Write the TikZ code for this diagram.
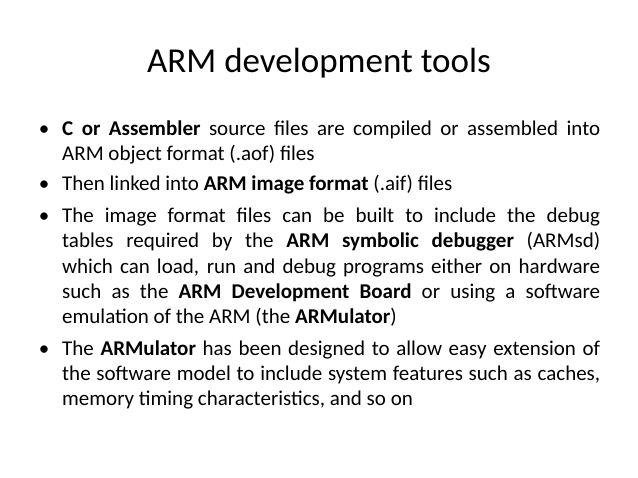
\documentclass[tikz,border=0pt]{standalone}
\usepackage{fontspec}
\setmainfont{Carlito}
\begin{document}
\begin{tikzpicture}[x=1pt,y=-1pt,
  ln/.style={anchor=base west,inner sep=0pt,font=\fontsize{21}{25}\selectfont},
  bul/.style={anchor=base,inner sep=0pt,font=\fontsize{21}{25}\selectfont}]
\useasboundingbox (0,0) rectangle (638,478);
\node[anchor=base,inner sep=0pt,font=\fontsize{35}{40}\selectfont] (t) at (319,73) {ARM development tools};
\def\W{538pt}
\foreach \y/\n in {136/b1,191/b2,223/b3,356/b4} \node[bul] (\n) at (44,\y) {•};
\node[ln] (l1) at (62,136) {\makebox[\W][s]{\textbf{C or Assembler} source files are compiled or assembled into}};
\node[ln] (l2) at (62,161) {ARM object format (.aof) files};
\node[ln] (l3) at (62,191) {Then linked into \textbf{ARM image format} (.aif) files};
\node[ln] (l4) at (62,223) {\makebox[\W][s]{The image format files can be built to include the debug}};
\node[ln] (l5) at (62,248) {\makebox[\W][s]{tables required by the \textbf{ARM symbolic debugger} (ARMsd)}};
\node[ln] (l6) at (62,274) {\makebox[\W][s]{which can load, run and debug programs either on hardware}};
\node[ln] (l7) at (62,299) {\makebox[\W][s]{such as the \textbf{ARM Development Board} or using a software}};
\node[ln] (l8) at (62,324) {emulation of the ARM (the \textbf{ARMulator})};
\node[ln] (l9) at (62,356) {\makebox[\W][s]{The \textbf{ARMulator} has been designed to allow easy extension of}};
\node[ln] (l10) at (62,381) {\makebox[\W][s]{the software model to include system features such as caches,}};
\node[ln] (l11) at (62,406) {memory timing characteristics, and so on};
\end{tikzpicture}
\end{document}
